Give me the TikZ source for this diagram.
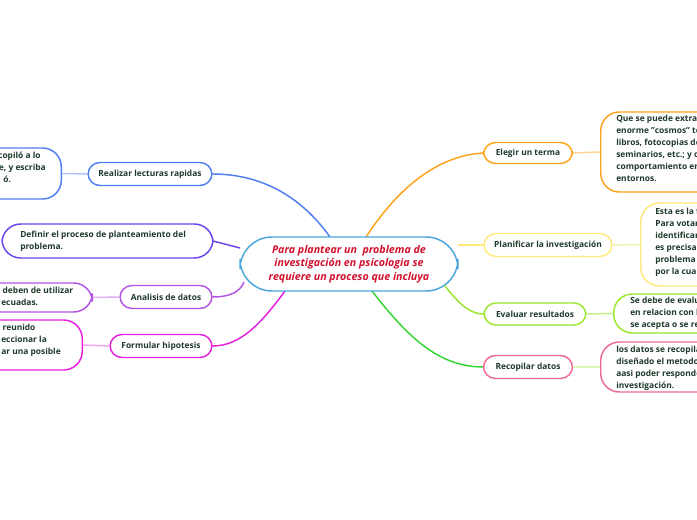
\documentclass[tikz,border=0pt]{standalone}
\usepackage{fontspec}
\setmainfont{Open Sans}
\begin{document}
\begin{tikzpicture}[x=0.75pt,y=-0.75pt,
  br/.style={draw,line width=1.1pt,rounded corners=9pt,inner sep=0pt,font=\fontsize{6.3}{8}\selectfont\bfseries,text=txt},
  det/.style={draw,line width=1.1pt,rounded corners=14pt},
  dt/.style={font=\fontsize{6.3}{9}\selectfont\bfseries,text=txt,align=left,inner sep=0pt},
  cn/.style={line width=1.1pt}]
\definecolor{txt}{HTML}{1E3A2A}
\definecolor{cor}{HTML}{FFA31A}\definecolor{cye}{HTML}{FFE97A}
\definecolor{cgr}{HTML}{9BE62F}\definecolor{cpk}{HTML}{EE6A93}
\definecolor{cbl}{HTML}{4F7DF2}\definecolor{cpu}{HTML}{6C44EE}
\definecolor{cvi}{HTML}{B353E2}\definecolor{cmg}{HTML}{E620E0}
\definecolor{cce}{HTML}{4AA6DC}\definecolor{cred}{HTML}{D3112E}
\definecolor{cdg}{HTML}{33D633}
\clip (0,0) rectangle (697,520);
\fill[white] (0,0) rectangle (697,520);
% connector anchor points on the centre box
\coordinate (s1) at (366,237);
\coordinate (s2) at (458,245);
\coordinate (s3) at (445,286);
\coordinate (s4) at (372,291);
\coordinate (s5) at (330,237);
\coordinate (s6) at (240,248);
\coordinate (s7) at (244,282);
\coordinate (s8) at (285,291);
\draw[line width=1.1pt,cor] (s1) .. controls (400,185) and (440,155) .. (484,153);
\draw[line width=1.1pt,cye] (s2) -- (484,245);
\draw[line width=1.1pt,cgr] (s3) .. controls (460,305) and (470,314) .. (484,314);
\draw[line width=1.1pt,cdg] (s4) .. controls (410,340) and (440,367) .. (484,367);
\draw[line width=1.1pt,cbl] (s5) .. controls (300,195) and (260,174) .. (212,174);
\draw[line width=1.1pt,cpu] (s6) -- (213,241);
\draw[line width=1.1pt,cvi] (s7) .. controls (240,292) and (230,297) .. (212,297);
\draw[line width=1.1pt,cmg] (s8) .. controls (260,325) and (240,346) .. (212,346);
% center
\node[draw=cce,fill=white,line width=1.1pt,rounded corners=24pt,minimum width=218*0.75pt,minimum height=54*0.75pt,align=center,text=cred,font=\fontsize{8}{10}\selectfont\bfseries\itshape] (c) at (349,264) {Para plantear un \ problema de\\investigación en psicologia se\\requiere un proceso que incluya};
% right branches
\node[br,draw=cor,fill=white,minimum width=89*0.75pt,minimum height=21*0.75pt] (b1) at (528,153) {Elegir un terma};
\node[br,draw=cye,fill=white,minimum width=128*0.75pt,minimum height=23*0.75pt] (b2) at (548,245) {Planificar la investigación};
\node[br,draw=cgr,fill=white,minimum width=102*0.75pt,minimum height=22*0.75pt] (b3) at (535,314) {Evaluar resultados};
\node[br,draw=cpk,fill=white,minimum width=89*0.75pt,minimum height=23*0.75pt] (b4) at (528,367) {Recopilar datos};
% left branches
\node[br,draw=cbl,fill=white,minimum width=124*0.75pt,minimum height=23*0.75pt] (b5) at (150,174) {Realizar lecturas rapidas};
\node[br,draw=cvi,fill=white,minimum width=92*0.75pt,minimum height=23*0.75pt] (b7) at (166,297) {Analisis de datos};
\node[br,draw=cmg,fill=white,minimum width=102*0.75pt,minimum height=23*0.75pt] (b8) at (161,346) {Formular hipotesis};
\node[draw=cpu,fill=white,line width=1.1pt,rounded corners=14pt,minimum width=211*0.75pt,minimum height=34*0.75pt,inner sep=0pt] (b6) at (107.5,241) {};
\node[dt,anchor=north west] at (20,231) {Definir el proceso de planteamiento del\\problema.};
% detail boxes
\node[det,draw=cor,minimum width=140*0.75pt,minimum height=80*0.75pt,anchor=west,inner sep=0pt] (d1) at (600,152) {};
\node[dt,anchor=north west] at (616,115) {Que se puede extraer del\\enorme "cosmos" temático\\libros, fotocopias de\\seminarios, etc.; y observar\\comportamiento en distintos\\entornos.};
\node[det,draw=cye,minimum width=110*0.75pt,minimum height=83*0.75pt,anchor=west,inner sep=0pt] (d2) at (640,244.5) {};
\node[dt,anchor=north west] at (655,208) {Esta es la fase de planificar.\\Para votar por un tema,\\identificar los objetivos,\\es precisamente el\\problema de investigación\\por la cual se realiza};
\node[det,draw=cgr,minimum width=130*0.75pt,minimum height=39*0.75pt,anchor=west,inner sep=0pt] (d3) at (613,313.5) {};
\node[dt,anchor=north west] at (630,297) {Se debe de evaluar los resultados\\en relacion con la hipotesis y si\\se acepta o se rechaza};
\node[det,draw=cpk,minimum width=140*0.75pt,minimum height=50*0.75pt,anchor=west,inner sep=0pt] (d4) at (600,367) {};
\node[dt,anchor=north west] at (616,346) {los datos se recopilan una vez\\diseñado el metodo para\\aasi poder responder la\\investigación.};
\node[det,draw=cbl,minimum width=120*0.75pt,minimum height=51*0.75pt,anchor=east,inner sep=0pt] (d5) at (62,173.5) {};
\node[dt,anchor=north west] at (-10,152) {\ \ \ \,copiló a lo\\\ \ \ \ e, y escriba\\\ \ \ \ \ \ ó.};
\node[det,draw=cvi,minimum width=120*0.75pt,minimum height=29*0.75pt,anchor=east,inner sep=0pt] (d7) at (93,297.5) {};
\node[dt,anchor=north west] at (1,287) {\,deben de utilizar\\ecuadas.};
\node[det,draw=cmg,minimum width=120*0.75pt,minimum height=50*0.75pt,anchor=east,inner sep=0pt] (d8) at (83,345) {};
\node[dt,anchor=north west] at (1,324) {\,reunido\\eccionar la\\ar una posible};
% detail connectors
\draw[cn,cor!45] (b1.east) -- (d1.west);
\draw[cn,cye!60!cgr!50] (b2.east) -- (d2.west);
\draw[cn,cgr!55] (b3.east) -- (d3.west);
\draw[cn,cgr!35] (b4.east) -- (d4.west);
\draw[cn,cbl!45] (b5.west) -- (d5.east);
\draw[cn,cvi!45] (b7.west) -- (d7.east);
\draw[cn,cmg!40] (b8.west) -- (d8.east);
\end{tikzpicture}
\end{document}
